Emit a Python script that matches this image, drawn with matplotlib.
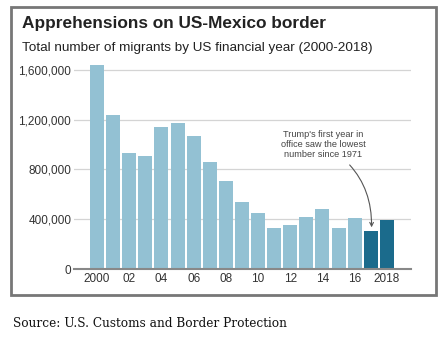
import matplotlib
matplotlib.use("Agg")
import matplotlib.pyplot as plt
from matplotlib.patches import Rectangle
from matplotlib.ticker import FuncFormatter

# Apprehensions by US financial year
years = list(range(2000, 2019))
apprehensions = [1643679, 1235718, 929809, 905065, 1139282, 1171396, 1071972,
                 858638, 705005, 540865, 447731, 327577, 356873, 414397,
                 479371, 331333, 408870, 303916, 396579]
highlight_years = [2017, 2018]
tick_years = [2000, 2002, 2004, 2006, 2008, 2010, 2012, 2014, 2016, 2018]
tick_labels = ["2000", "02", "04", "06", "08", "10", "12", "14", "16", "2018"]
y_ticks = [0, 400000, 800000, 1200000, 1600000]

light = "#93c1d3"
dark = "#1b6b8c"
txt = "#333333"

plt.rcParams['font.family'] = ['Liberation Sans', 'DejaVu Sans']

fig = plt.figure(figsize=(4.48, 3.5), dpi=100)

# grey frame around the graphic
fig.patches.append(Rectangle((11 / 448, 1 - 295 / 350), 425 / 448, 288 / 350,
                             transform=fig.transFigure, fill=False,
                             edgecolor="#777777", linewidth=2))

ax = fig.add_axes([74 / 448, 1 - 269 / 350, 337 / 448, 209 / 350])

x = [y - 2000 for y in years]
colors = [dark if y in highlight_years else light for y in years]
ax.bar(x, apprehensions, width=0.87, color=colors, zorder=2)

ax.set_xlim(-1.43, 19.5)
ax.set_ylim(0, 1680000)
ax.set_yticks(y_ticks)
ax.yaxis.set_major_formatter(FuncFormatter(lambda v, p: f"{int(v):,}"))
ax.set_xticks([t - 2000 for t in tick_years])
ax.set_xticklabels(tick_labels)
ax.grid(axis="y", color="#d4d4d4", linewidth=0.9, zorder=0)
for s in ["top", "right", "left"]:
    ax.spines[s].set_visible(False)
ax.spines["bottom"].set_color("#888888")
ax.spines["bottom"].set_linewidth(1.5)
ax.spines["bottom"].set_zorder(3)
ax.tick_params(axis="y", length=0, pad=2, labelsize=8.5, labelcolor=txt)
ax.tick_params(axis="x", length=0, pad=3, labelsize=8.5, labelcolor=txt)

fig.text(22 / 448, 1 - 28 / 350, "Apprehensions on US-Mexico border",
         fontsize=12.4, fontweight="bold", color="#222222")
fig.text(22 / 448, 1 - 51 / 350, "Total number of migrants by US financial year (2000-2018)",
         fontsize=9.7, color="#222222")

ax.annotate("Trump's first year in\noffice saw the lowest\nnumber since 1971",
            xy=(17.05, 335000), xytext=(14.05, 1000000),
            ha="center", va="center", fontsize=6.6, color="#444444",
            linespacing=1.15,
            arrowprops=dict(arrowstyle="->", color="#555555", lw=0.8,
                            connectionstyle="arc3,rad=-0.3",
                            shrinkA=3, shrinkB=0))

fig.text(13 / 448, 1 - 327 / 350, "Source: U.S. Customs and Border Protection",
         fontsize=8.7, family=["DejaVu Serif"], color="#111111")

fig.savefig("out.png", dpi=100)
